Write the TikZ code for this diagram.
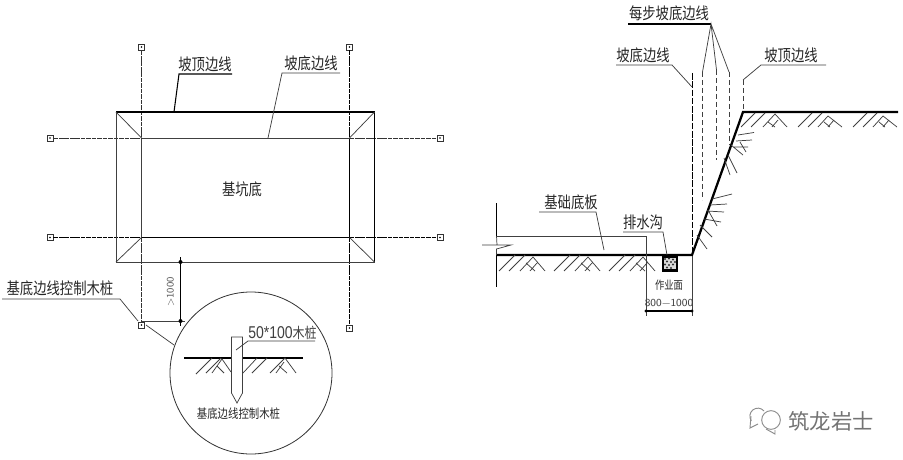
\documentclass[tikz,border=0pt]{standalone}
\usepackage{graphicx}
\usepackage{fontspec}
\newfontfamily\cjk{Noto Sans CJK SC}
\newfontfamily\latinlab{Liberation Sans}
\newcommand{\tallt}[1]{\scalebox{1}[1.22]{#1}}
\begin{document}
\begin{tikzpicture}[x=0.75pt,y=-0.75pt,
  thinl/.style={line width=0.55pt,black!75},
  medl/.style={line width=0.8pt,black},
  thick1/.style={line width=1.7pt,black},
  axisl/.style={line width=0.6pt,black!80,dash pattern=on 3.5pt off 0.6pt},
  axisk/.style={line width=0.9pt,black,dash pattern=on 3.5pt off 0.6pt},
  stepdash/.style={line width=0.55pt,black!75,dash pattern=on 4pt off 2pt},
  mark1/.style={draw=black!80,line width=0.6pt,fill=white,minimum size=4.6pt,inner sep=0pt,
     path picture={\fill[black] (path picture bounding box.center) circle (0.7pt);}},
  lab/.style={inner sep=0pt,font=\cjk\fontsize{10pt}{11pt}\selectfont,black!85},
  smalllab/.style={inner sep=0pt,font=\cjk\fontsize{7.8pt}{9pt}\selectfont,black!85},
  tip/.style={circle,fill=black,inner sep=0pt,minimum size=3pt}]
\useasboundingbox (0,0) rectangle (903,460);
\fill[white] (0,0) rectangle (903,460);
% markers
\node[mark1] (mt1) at (141.5,47) {};
\node[mark1] (mt2) at (349.5,47) {};
\node[mark1] (ml1) at (50,138) {};
\node[mark1] (ml2) at (50,237.5) {};
\node[mark1] (mr1) at (440,138) {};
\node[mark1] (mr2) at (440,237.5) {};
\node[mark1] (mb1) at (141.5,325) {};
\node[mark1] (mb2) at (349.5,328) {};
% inner corners
\coordinate (i1) at (141.5,138); \coordinate (i2) at (349.5,138);
\coordinate (i3) at (349.5,237.5); \coordinate (i4) at (141.5,237.5);
\coordinate (o1) at (116,112); \coordinate (o2) at (374.5,112);
\coordinate (o3) at (374.5,262); \coordinate (o4) at (116,262);
% axes
\draw[axisl] (mt1) -- (i1); \draw[thinl] (i1) -- (i4); \draw[axisl] (i4) -- (mb1);
\draw[axisk] (mt2) -- (i2); \draw[medl] (i2) -- (i3); \draw[axisk] (i3) -- (mb2);
\draw[axisl] (ml1) -- (i1); \draw[thinl] (i1) -- (i2); \draw[axisl] (i2) -- (mr1);
\draw[axisk] (ml2) -- (i4); \draw[medl] (i4) -- (i3); \draw[axisk] (i3) -- (mr2);
% outer rectangle
\draw[medl] (o1) -- (o2) -- (o3);
\draw[thinl] (o4) -- (o1);
\draw[thinl] (o3) -- (o4);
\draw[thinl] (o1) -- (i1) (o2) -- (i2) (o3) -- (i3) (o4) -- (i4);
% labels, left
\node[lab] (a) at (205,64) {\tallt{坡顶边线}};
\draw[medl] (232,74) -- (179,74) -- (174,112);
\node[lab] (b) at (311,63) {\tallt{坡底边线}};
\draw[thinl] (340,73) -- (282,73) -- (268,138);
\node[lab] (c) at (242,189) {\tallt{基坑底}};
% dimension
\coordinate (d1) at (180.5,262); \coordinate (d2) at (180.5,321);
\draw[thinl] (185,321) -- (141.5,321);
\draw[medl] (180.5,257) -- (180.5,326);
\node[tip] at (d1) {}; \node[tip] at (d2) {};
\node[inner sep=0pt,rotate=90,font=\sffamily\fontsize{7.5pt}{9pt}\selectfont,black!65] (gt) at (170.5,292) {>1000};
% peg label
\node[lab] (e) at (60,288) {\tallt{基底边线控制木桩}};
\draw[thinl] (2,299) -- (120,299) -- (138,321);
% detail circle
\node[draw=black!80,line width=0.6pt,circle,minimum size=121.5pt,inner sep=0pt,fill=white] (circ) at (251,373) {};
\draw[thinl] (146,325) -- (174,345);
\draw[medl] (184,358) -- (303,358);
\draw[thinl,fill=white] (231.5,337) -- (242.5,337) -- (242.5,393) -- (237,403) -- (231.5,393) -- cycle;
\draw[thinl] (236,350) -- (248,341) -- (315,341);
\node[inner sep=0pt,black!75,font=\cjk\fontsize{10.5pt}{11pt}\selectfont] (f) at (282.5,333) {\tallt{{\latinlab 50*100}\fontsize{9pt}{10pt}\selectfont 木桩}};
\node[smalllab] (g) at (238.5,414) {\tallt{基底边线控制木桩}};
\draw[thinl] (196,374) -- (212,358) (206,373) -- (221,358) (212,373) -- (222,359) -- (231,372)
  (217,366) -- (224,373)
  (243,373) -- (257,358) (252,373) -- (267,358) (270,373) -- (285,358) -- (296,373) (279,366) -- (287,373) (276,373) -- (284,362);
% right section
\coordinate (s1) at (743,112); \coordinate (s2) at (692,255);
\draw[thick1] (898,112) -- (s1) -- (s2) -- (496,255);
\draw[medl] (496.5,203) -- (496.5,236) (496.5,249) -- (496.5,287);
\draw[thinl] (496.5,236) -- (646,236) -- (646,316);
\draw[thinl] (496.5,236) -- (497,245) -- (482,245) -- (511,245) -- (496.5,249) -- (496.5,255);
\draw[thinl] (692,255) -- (692,316);
\draw[medl] (646,311) -- (692,311);
\node[tip,minimum size=2.5pt] at (646,311) {}; \node[tip,minimum size=2.5pt] at (692,311) {};
% trench
\fill[black] (661.5,255) rectangle (678,271.5);
\fill[black!15] (664,257.5) rectangle (675.5,269);
\foreach \px/\py in {665/259,669/258.5,673/259.5,667/261.5,671/262,675/262,665/264.5,669/265,673/264.5,667/267.5,671/268}{\fill[black!80] (\px,\py) circle (0.8pt);}
\node[smalllab,font=\cjk\fontsize{7pt}{9pt}\selectfont] (h) at (669,285.5) {\tallt{作业面}};
\node[inner sep=0pt,font=\sffamily\fontsize{8pt}{9pt}\selectfont,black!75] (i) at (669,303) {800−1000};
\node[lab] (j) at (571,202) {\tallt{基础底板}};
\draw[thinl] (539,212) -- (596,212) -- (604,250);
\node[lab] (k) at (643,222) {\tallt{排水沟}};
\draw[thinl] (623,232) -- (663,232) -- (667,255);
% ground hatches
\foreach \dx in {0,55,110}{
  \draw[thinl,shift={(\dx*0.75pt,0pt)}] (499,271) -- (515,255) (509,271) -- (525,255)
   (520,271) -- (533,257) -- (545,271) (526,263) -- (535,271) (530,271) -- (537,263);
}
\foreach \dx in {0,55}{
  \draw[thinl,shift={(\dx*0.75pt,0pt)}] (798,127) -- (812,113) (808,127) -- (822,113)
   (818,127) -- (828,116) -- (842,127) (824,122) -- (830,127) (828,127) -- (834,120);
}
\draw[thinl] (741,127) -- (755,113) (751,127) -- (765,113) (763,127) -- (775,114) -- (787,127) (768,122) -- (775,127) (772,127) -- (778,120);
% slope hatches
\draw[thinl] (738,135) -- (754,132.5) (736,141) -- (752,140) (733,147) -- (748,147) (740,142) -- (746,152)
  (731,145) -- (743,155) (728,155) -- (737,173) (724,158) -- (730,175)
  (712,199) -- (732,194) (710,205) -- (727,204) (707,211) -- (724,212) (704,219) -- (721,222) (708,210) -- (717,226) (700,225) -- (712,237) (697,235) -- (707,249);
% dashed verticals
\draw[line width=0.7pt,black,dash pattern=on 5pt off 1.2pt] (692,73) -- (692,255);
\draw[stepdash] (702.5,72) -- (702.5,200);
\draw[stepdash] (716.5,70) -- (716.5,160);
\draw[stepdash] (729,72) -- (729,145);
\draw[stepdash] (743,80) -- (743,112);
% section labels
\node[lab] (l) at (669,13) {\tallt{每步坡底边线}};
\draw[medl] (628,24) -- (711,24);
\draw[thinl] (702.5,72) -- (711,24) -- (716.5,70) (711,24) -- (729,72);
\node[lab] (m) at (643,55) {\tallt{坡底边线}};
\draw[thinl] (616,65) -- (672,65) -- (692,87);
\node[lab] (n) at (791,55) {\tallt{坡顶边线}};
\draw[thinl] (743,80) -- (761,65) -- (826,65);
% watermark
\node[inner sep=0pt,font=\cjk\fontsize{16pt}{17pt}\selectfont,black!55] (w) at (831,421) {筑龙岩士};
\draw[black!45,line width=0.7pt] (771,420) circle (7pt);
\draw[black!45,line width=0.7pt] (764,411) arc (40:215:6pt);
\draw[black!45,line width=0.7pt] (751,416) -- (750,428) -- (758,424);
\draw[black!45,line width=0.7pt] (766,429) -- (775,434) -- (775,430);
\end{tikzpicture}
\end{document}
